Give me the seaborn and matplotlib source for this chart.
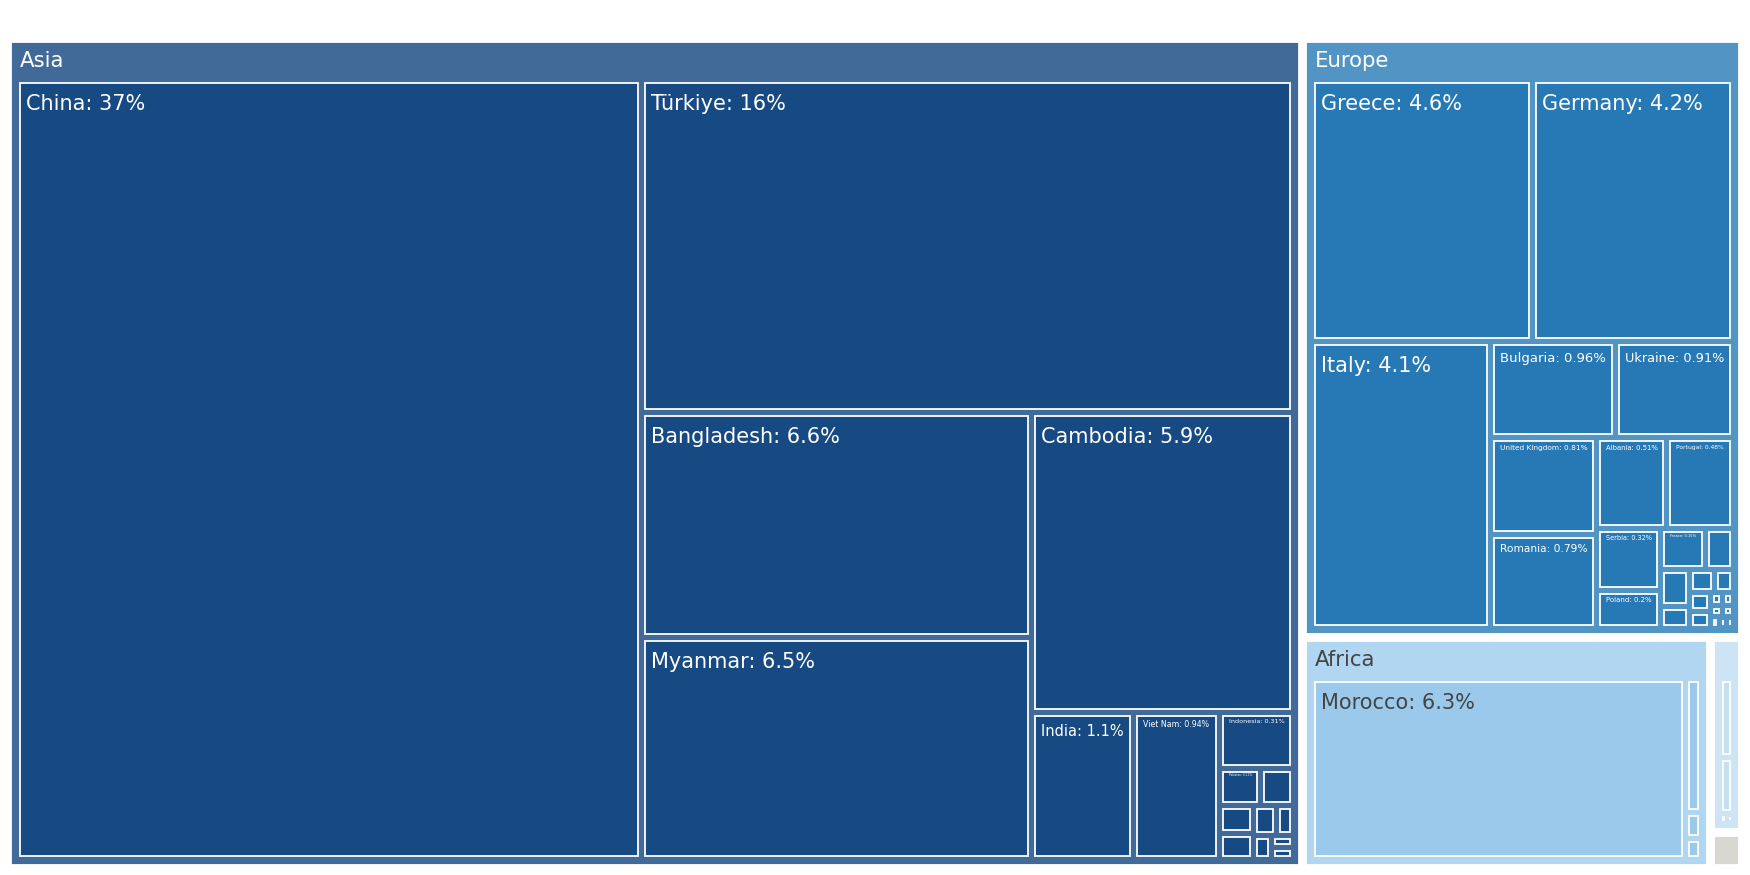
import matplotlib
matplotlib.use("Agg")
import matplotlib.pyplot as plt
from matplotlib.patches import Rectangle
from matplotlib.font_manager import FontProperties
import seaborn as sns
import pandas as pd

sns.set_theme(style="white")
plt.rcParams['font.family'] = ['DejaVu Sans']

# ---------------- data (share of total, %) ----------------
asia_countries = ["China", "Türkiye", "Bangladesh", "Myanmar", "Cambodia", "India",
                  "Viet Nam", "Indonesia", "Pakistan", "Sri Lanka", "Jordan", "Thailand",
                  "Malaysia", "Japan", "Korea", "Philippines", "Israel"]
asia_values = [36.6, 16.29, 6.6, 6.5, 5.9, 1.12, 0.944, 0.314, 0.115, 0.09, 0.075, 0.065,
               0.052, 0.04, 0.032, 0.02, 0.018]

europe_countries = ["Greece", "Germany", "Italy", "Bulgaria", "Ukraine", "United Kingdom",
                    "Romania", "Albania", "Portugal", "Serbia", "Poland", "France",
                    "Netherlands", "Spain", "Belgium", "Austria", "Croatia", "Hungary",
                    "North Macedonia", "Bosnia and Herzegovina", "Slovenia", "Czechia",
                    "Lithuania", "Denmark", "Sweden", "Slovakia"]
europe_values = [4.57, 4.17, 4.07, 0.957, 0.907, 0.807, 0.787, 0.507, 0.477, 0.317,
                 0.197, 0.147, 0.09, 0.085, 0.05, 0.045, 0.035, 0.03, 0.028, 0.012,
                 0.011, 0.011, 0.01, 0.008, 0.007, 0.006]

africa_countries = ["Morocco", "Tunisia", "Egypt", "Mauritius"]
africa_values = [6.27, 0.2, 0.04, 0.03]

americas_countries = ["United States", "Canada", "Mexico", "Brazil"]
americas_values = [0.24, 0.17, 0.017, 0.013]

unknown_value = 0.08

regions = ["Asia", "Europe", "Africa", "Americas", "Unknown"]
leaf_colors = {"Asia": "#174983", "Europe": "#2779b5", "Africa": "#9bc9ec",
               "Americas": "#c6def2", "Unknown": "#d9d8d0"}
header_colors = {"Asia": "#426a99", "Europe": "#5295c4", "Africa": "#b0d6f1",
                 "Americas": "#cde4f5", "Unknown": "#d9d8d0"}
text_colors = {"Asia": "white", "Europe": "white", "Africa": "#444444",
               "Americas": "#444444", "Unknown": "#444444"}

rows = []
for reg, names, vals in [("Asia", asia_countries, asia_values),
                         ("Europe", europe_countries, europe_values),
                         ("Africa", africa_countries, africa_values),
                         ("Americas", americas_countries, americas_values)]:
    for n, v in zip(names, vals):
        rows.append({"region": reg, "country": n, "value": v})
rows.append({"region": "Unknown", "country": None, "value": unknown_value})
df = pd.DataFrame(rows)
total = df["value"].sum()

# ---------------- layout (d3 squarify, ratio 1) ----------------
ROOT = (11.0, 42.0, 1739.0, 864.5)
PAD_T, PAD_L, PAD_R, PAD_B = 41.0, 9.0, 9.0, 9.0
INNER = 7.0


def squarify(values, x0, y0, x1, y1, ratio=1.0):
    rects = [None] * len(values)
    value = float(sum(values))
    n = len(values)
    i0 = 0
    while i0 < n:
        dx = x1 - x0
        dy = y1 - y0
        i1 = i0
        sumv = values[i1]
        i1 += 1
        minv = maxv = sumv
        if dx <= 0 or dy <= 0:
            alpha = 1e9 / (value * ratio)
        else:
            alpha = max(dy / dx, dx / dy) / (value * ratio)
        beta = sumv * sumv * alpha
        minr = max(maxv / beta, beta / minv)
        while i1 < n:
            v = values[i1]
            s2 = sumv + v
            mn = min(minv, v)
            mx = max(maxv, v)
            beta = s2 * s2 * alpha
            nr = max(mx / beta, beta / mn)
            if nr > minr:
                break
            sumv, minv, maxv, minr = s2, mn, mx, nr
            i1 += 1
        idx = list(range(i0, i1))
        if dx < dy:
            ny = y0 + dy * sumv / value if value else y1
            k = (x1 - x0) / sumv
            xx = x0
            for i in idx:
                w = values[i] * k
                rects[i] = (xx, y0, xx + w, ny)
                xx += w
            y0 = ny
        else:
            nx = x0 + dx * sumv / value if value else x1
            k = (y1 - y0) / sumv
            yy = y0
            for i in idx:
                h = values[i] * k
                rects[i] = (x0, yy, nx, yy + h)
                yy += h
            x0 = nx
        value -= sumv
        i0 = i1
    return rects


def shrink(r, p):
    x0, y0, x1, y1 = r[0] + p, r[1] + p, r[2] - p, r[3] - p
    if x1 < x0:
        x0 = x1 = (x0 + x1) / 2
    if y1 < y0:
        y0 = y1 = (y0 + y1) / 2
    return (x0, y0, x1, y1)


q = INNER / 2
reg_vals = [df.loc[df.region == r, "value"].sum() for r in regions]
order = sorted(range(len(regions)), key=lambda i: -reg_vals[i])
reg_sorted = [regions[i] for i in order]
reg_vals_sorted = [reg_vals[i] for i in order]
top_rects = squarify(reg_vals_sorted, ROOT[0] - q, ROOT[1] - q, ROOT[2] + q, ROOT[3] + q)

# ---------------- draw ----------------
fig = plt.figure(figsize=(17.5, 8.75), dpi=100)
ax = fig.add_axes([0, 0, 1, 1])
ax.set_xlim(0, 1750)
ax.set_ylim(875, 0)
ax.axis("off")
renderer = fig.canvas.get_renderer()


def text_w10(s):
    w, h, d = renderer.get_text_width_height_descent(
        s, FontProperties(family="DejaVu Sans", size=10), ismath=False)
    return w


def draw_rect(r, color):
    ax.add_patch(Rectangle((r[0], r[1]), r[2] - r[0], r[3] - r[1],
                           facecolor=color, edgecolor="white", linewidth=1.3))


LEAF_MAX = 15.0
HEAD_MAX = 15.3


def leaf_label(r, s, color):
    w = r[2] - r[0]
    h = r[3] - r[1]
    avail = w - 12
    if avail <= 0:
        return
    size = min(LEAF_MAX, 10 * avail / text_w10(s), (h - 2) / 1.75 * 0.72)
    if size < 2.0:
        return
    em = size / 0.72
    ax.text(r[0] + 6, r[1] + 0.55 * em, s, fontsize=size, color=color,
            ha="left", va="top")


for reg, rv, rr in zip(reg_sorted, reg_vals_sorted, top_rects):
    rect = shrink(rr, q)
    sub = df[(df.region == reg) & df.country.notna()].sort_values("value", ascending=False)
    if len(sub) == 0:
        draw_rect(rect, leaf_colors[reg])
        leaf_label(rect, f"{reg}: {rv / total * 100:.2g}%", text_colors[reg])
        continue
    draw_rect(rect, header_colors[reg])
    # header label
    w = rect[2] - rect[0]
    avail = w - 20
    if avail > 0:
        hs = min(HEAD_MAX, 10 * avail / text_w10(reg))
        if hs >= 2.0:
            ax.text(rect[0] + 9, rect[1] + 9.0, reg, fontsize=hs,
                    color=text_colors[reg], ha="left", va="top")
    cx0 = rect[0] + PAD_L - q
    cy0 = rect[1] + PAD_T - q
    cx1 = rect[2] - PAD_R + q
    cy1 = rect[3] - PAD_B + q
    if cx1 < cx0:
        cx0 = cx1 = (cx0 + cx1) / 2
    if cy1 < cy0:
        cy0 = cy1 = (cy0 + cy1) / 2
    vals = sub["value"].tolist()
    names = sub["country"].tolist()
    crs = squarify(vals, cx0, cy0, cx1, cy1)
    for name, v, cr in zip(names, vals, crs):
        r2 = shrink(cr, q)
        draw_rect(r2, leaf_colors[reg])
        leaf_label(r2, f"{name}: {v / total * 100:.2g}%", text_colors[reg])

fig.savefig("out.png", dpi=100, facecolor="white")
